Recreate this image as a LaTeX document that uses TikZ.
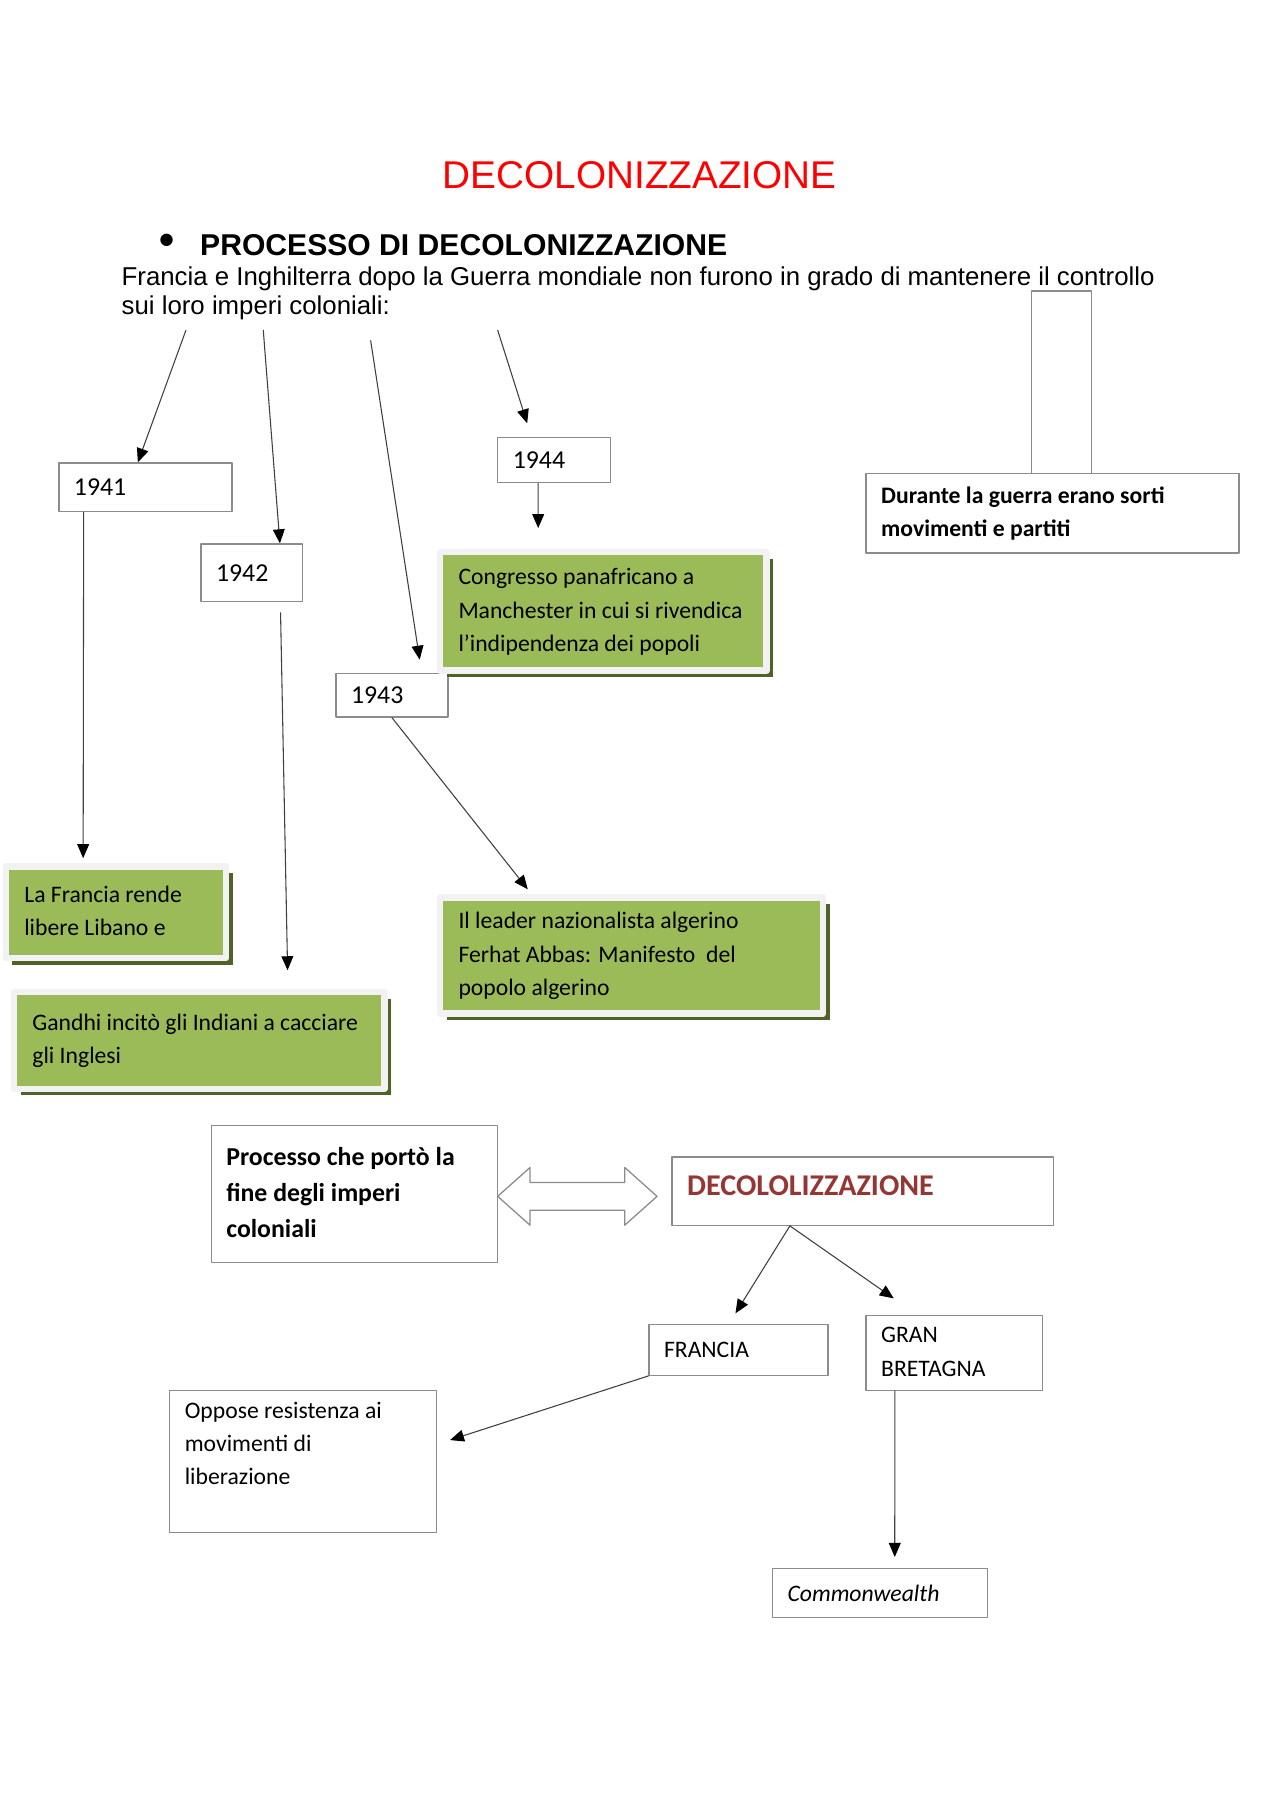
\documentclass[tikz,border=0pt]{standalone}
\usepackage{fontspec}
\setmainfont{Liberation Sans}
\newfontfamily\calibri{Carlito}
\usetikzlibrary{arrows.meta,shadows}
\definecolor{verde}{HTML}{9BBB59}
\definecolor{ombra}{HTML}{4F6228}
\definecolor{bordo}{HTML}{8C8C8C}
\definecolor{rossoscuro}{HTML}{943634}
\newcommand\righe[1]{\begin{tabular}{@{}l@{}}#1\end{tabular}}
\tikzset{
  box/.style={draw=bordo, line width=.6pt, fill=white, inner xsep=7pt, inner ysep=2pt,
    align=flush left, font=\calibri\fontsize{11}{15.5}\selectfont},
  greenbox/.style={box, fill=verde, draw=gray!10, line width=3pt, inner xsep=8.5pt,
    drop shadow={shadow xshift=3pt, shadow yshift=-3pt, fill=ombra, opacity=1}},
  anno/.style={box, font=\calibri\fontsize{12}{14}\selectfont},
  freccia/.style={draw=black!75, line width=.5pt, -{Triangle[length=6.5pt,width=5.5pt,black]}}
}
\begin{document}
\begin{tikzpicture}[x=0.5369pt, y=-0.5369pt, line join=round, line cap=round]
  \useasboundingbox (0,0) rectangle (1108.8,1568.3);
  % intestazione
  \node[text=red, font=\fontsize{18}{21}\selectfont] (titolo) at (554,152) {DECOLONIZZAZIONE};
  \node[font=\fontsize{20}{22}\selectfont\bfseries] (punto) at (145,212) {\textbullet};
  \node[anchor=west, inner sep=0pt, font=\fontsize{14}{16}\selectfont\bfseries] (sottotitolo) at (173,212) {PROCESSO DI DECOLONIZZAZIONE};
  \node[anchor=west, align=left, inner sep=0pt, font=\fontsize{12}{13.6}\selectfont] (intro) at (105,254)
    {Francia e Inghilterra dopo la Guerra mondiale non furono in grado di mantenere il controllo\\sui loro imperi coloniali:};
  % partenze delle frecce sotto il testo
  \coordinate (p1) at (161,286);
  \coordinate (p2) at (228,286);
  \coordinate (p3) at (321,295);
  \coordinate (p4) at (431,286);
  % anni
  \node[anno, text width=66.5pt, minimum height=22.6pt] (n1941) at (126,422) {1941};
  \node[anno, text width=33.2pt, minimum height=26.8pt] (n1942) at (218,496) {1942};
  \node[anno, text width=38.1pt, minimum height=20.4pt] (n1943) at (339.5,602) {1943};
  \node[anno, text width=38.6pt, minimum height=20.9pt] (n1944) at (480,398.5) {1944};
  % riquadro vuoto e movimenti
  \node[box, minimum width=27.9pt, minimum height=84.8pt] (vuoto) at (919,331) {};
  \node[box, text width=159.4pt, minimum height=37pt, font=\calibri\fontsize{11}{15.5}\selectfont\bfseries] (durante) at (911.5,444.5)
    {\righe{Durante la guerra erano sorti\\movimenti e partiti}};
  % eventi
  \node[greenbox, text width=134.7pt, minimum height=55.1pt] (congresso) at (522.5,529.5)
    {\righe{Congresso panafricano a\\Manchester in cui si rivendica\\l’indipendenza dei popoli}};
  \node[greenbox, text width=85.3pt, minimum height=42.7pt] (libano) at (100.5,790)
    {\righe{La Francia rende\\libere Libano e}};
  \node[greenbox, text width=155.1pt, minimum height=44.9pt] (gandhi) at (172.5,901)
    {\righe{Gandhi incitò gli Indiani a cacciare\\gli Inglesi}};
  \node[greenbox, text width=161pt, minimum height=54pt] (abbas) at (547,827.5)
    {\righe{Il leader nazionalista algerino\\Ferhat Abbas: Manifesto\ \ del\\popolo algerino}};
  % frecce
  \draw[freccia] (p1) -- ([xshift=37pt]n1941.north west);
  \draw[freccia] (p2) -- ([xshift=37pt]n1942.north west);
  \draw[freccia] (p3) -- ([xshift=39.2pt,yshift=6pt]n1943.north west);
  \draw[freccia] (p4) -- ([xshift=14pt,yshift=6.4pt]n1944.north west);
  \draw[freccia] ([xshift=-7.5pt]n1944.south) -- ([xshift=-30.3pt,yshift=9.7pt]congresso.north);
  \draw[freccia] ([xshift=11.8pt]n1941.south west) -- ([xshift=-15.3pt,yshift=2.3pt]libano.north);
  \draw[freccia] ([xshift=13.4pt,yshift=-4.9pt]n1942.south) -- ([xshift=41.1pt,yshift=8.7pt]gandhi.north);
  \draw[freccia] (n1943.south) -- ([xshift=-48.3pt,yshift=2.3pt]abbas.north);
  % parte bassa
  \node[box, text width=119.2pt, minimum height=63.4pt, font=\calibri\fontsize{12}{16.8}\selectfont\bfseries] (processo) at (307,1034)
    {\righe{Processo che portò la\\fine degli imperi\\coloniali}};
  \node[box, text width=163.2pt, minimum height=31.7pt, text depth=5.5pt, text=rossoscuro, font=\calibri\fontsize{14}{17}\selectfont\bfseries] (decol) at (747,1031.5)
    {DECOLOLIZZAZIONE};
  \draw[bordo, line width=.6pt] (431,1036) -- (459,1011) -- (459,1024) -- (541,1024) -- (541,1011) -- (569,1036)
    -- (541,1061) -- (541,1048) -- (459,1048) -- (459,1061) -- cycle;
  \node[box, text width=69.2pt, minimum height=23.6pt] (francia) at (639.5,1169) {FRANCIA};
  \node[box, text width=68.1pt, minimum height=34.9pt] (gb) at (826.5,1171.5) {\righe{GRAN\\BRETAGNA}};
  \node[box, text width=110pt, minimum height=65pt] (oppone) at (262.5,1265.5)
    {\righe{Oppose resistenza ai\\movimenti di\\liberazione\\ \mbox{}}};
  \node[box, text width=85.9pt, minimum height=23.1pt, font=\calibri\fontsize{11}{15.5}\selectfont\itshape] (commonwealth) at (762,1379.5)
    {Commonwealth};
  \draw[freccia] ([xshift=-33.8pt]decol.south) -- ([xshift=-1.4pt,yshift=4.9pt]francia.north);
  \draw[freccia] ([xshift=-33.8pt]decol.south) -- ([xshift=-28.2pt,yshift=7.5pt]gb.north);
  \draw[freccia] (francia.south west) -- ([xshift=6pt,yshift=9.9pt]oppone.east);
  \draw[freccia] ([xshift=-27.7pt]gb.south) -- ([xshift=6.9pt,yshift=4.9pt]commonwealth.north);
\end{tikzpicture}
\end{document}
